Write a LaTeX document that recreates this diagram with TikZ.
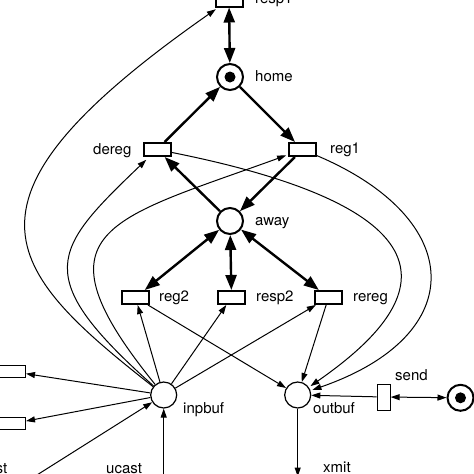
\documentclass[tikz,border=0pt]{standalone}
\usepackage{fontspec}
\setmainfont{TeX Gyre Heros}
\usetikzlibrary{arrows.meta}

\begin{document}
\begin{tikzpicture}[
    x=1pt, y=1pt,
    trans_box/.style={rectangle,draw,line width=2pt,minimum width=27pt,minimum height=13pt,inner sep=0pt},
    thin_box/.style={rectangle,draw,line width=1pt,minimum width=27pt,minimum height=12pt,inner sep=0pt},
    buf_place/.style={circle,draw,line width=1.2pt,minimum size=26pt,inner sep=0pt},
    state_place/.style={circle,draw,line width=2pt,minimum size=26pt,inner sep=0pt},
    lbl/.style={anchor=base west,inner sep=0pt,font=\fontsize{15}{17}\selectfont},
    big_arc/.style={line width=2.4pt,-{Triangle[length=15pt,width=11pt]}},
    big_both/.style={line width=2.4pt,{Triangle[length=15pt,width=11pt]}-{Triangle[length=15pt,width=11pt]}},
    small_arc/.style={line width=1pt,-{Triangle[length=9pt,width=6pt]}},
    small_both/.style={line width=1pt,{Triangle[length=9pt,width=6pt]}-{Triangle[length=9pt,width=6pt]}}
]
\useasboundingbox (0,-474) rectangle (474,0);

% Places
\node[state_place] (home) at (230,-77) {};
\node[state_place] (away) at (230,-221) {};
\node[buf_place] (inpbuf) at (163.7,-395) {};
\node[buf_place] (outbuf) at (297.7,-395) {};
\node[state_place] (tok) at (460.5,-397.8) {};
\fill (home.center) circle (5.5pt);
\fill (tok.center) circle (5.5pt);

% Transitions
\node[trans_box] (resp1) at (229,0) {};
\node[trans_box] (dereg) at (157,-149.5) {};
\node[trans_box] (reg1) at (302.5,-149.5) {};
\node[trans_box] (reg2) at (135.5,-297.5) {};
\node[trans_box] (resp2) at (231.5,-297.5) {};
\node[trans_box] (rereg) at (328.5,-297.5) {};
\node[thin_box,minimum width=13pt,minimum height=26pt] (send) at (383.7,-397) {};
\node[thin_box] (lt1) at (12,-371.5) {};
\node[thin_box] (lt2) at (12,-423.7) {};
\node[thin_box] (bcast) at (10,-492) {};
\node[thin_box] (ucast) at (163.7,-492) {};
\node[thin_box] (xmit) at (297.7,-483) {};

% Labels
\node[lbl] (resp1_l) at (255,-3) {resp1};
\node[lbl] (home_l) at (255,-81) {home};
\node[lbl] (dereg_l) at (93,-154) {dereg};
\node[lbl] (reg1_l) at (330,-153) {reg1};
\node[lbl] (away_l) at (255,-225) {away};
\node[lbl] (reg2_l) at (159,-301) {reg2};
\node[lbl] (resp2_l) at (256,-301) {resp2};
\node[lbl] (rereg_l) at (353,-301) {rereg};
\node[lbl] (inpbuf_l) at (183,-413) {inpbuf};
\node[lbl] (outbuf_l) at (313,-413) {outbuf};
\node[lbl] (send_l) at (395,-380) {send};
\node[lbl] (xmit_l) at (323,-472) {xmit};
\node[lbl] (ucast_l) at (106,-473) {ucast};
\node[lbl,anchor=base east] (bcast_l) at (7.5,-473) {bcast};

% Registration cycle
\draw[big_both] (resp1) -- (home);
\draw[big_arc] (dereg) -- (home);
\draw[big_arc] (home) -- (reg1);
\draw[big_arc] (reg1) -- (away);
\draw[big_arc] (away) -- (dereg);
\draw[big_both] (away) -- (reg2);
\draw[big_both] (away) -- (resp2);
\draw[big_both] (away) -- (rereg);

% Buffer arcs
\draw[small_arc] (inpbuf) -- (reg2);
\draw[small_arc] (inpbuf) -- (resp2);
\draw[small_arc] (inpbuf) -- (rereg);
\draw[small_arc] (reg2) -- (outbuf);
\draw[small_arc] (rereg) -- (outbuf);
\draw[small_arc] (inpbuf) -- (lt1);
\draw[small_arc] (inpbuf) -- (lt2);
\draw[small_arc] (bcast) -- (inpbuf);
\draw[small_arc] (ucast) -- (inpbuf);
\draw[small_arc] (outbuf) -- (xmit);
\draw[small_arc] (send) -- (outbuf);
\draw[small_both] (send) -- (tok);

% Long curves
\draw[small_arc,shorten >=3pt] (inpbuf) .. controls (2,-268) and (-57,-200) .. (resp1);
\draw[small_arc,shorten >=4pt] (inpbuf) .. controls (30,-276) and (52,-250) .. (dereg);
\draw[small_arc,shorten >=2pt] (inpbuf) .. controls (30,-230) and (108,-220) .. (reg1);
\draw[small_arc,shorten >=2pt] (dereg) .. controls (505,-219) and (401,-323) .. (outbuf);
\draw[small_arc,shorten >=2pt] (reg1) .. controls (466,-219) and (471,-335) .. (outbuf);

\end{tikzpicture}
\end{document}
